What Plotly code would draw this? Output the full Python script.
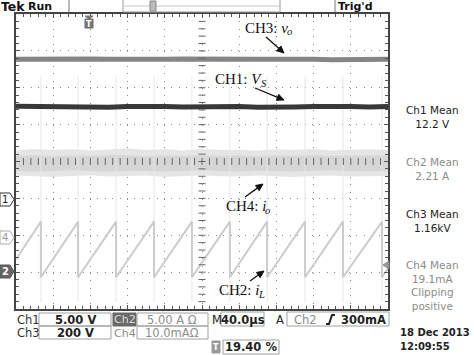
import math
import plotly.graph_objects as go

# ---------------- data (in screen divisions: x 0..10, y -4..4) ----------------
X_CH = [0, 0.5, 1, 1.5, 2, 2.5, 3, 3.5, 4, 4.5, 5, 5.5, 6, 6.5, 7, 7.5, 8, 8.5, 9, 9.5, 10]
CH3_VO = [2.77, 2.78, 2.77, 2.77, 2.78, 2.77, 2.76, 2.77, 2.77, 2.78, 2.77, 2.77, 2.76, 2.77, 2.77, 2.78, 2.77, 2.76, 2.77, 2.77, 2.77]
CH1_VS = [1.50, 1.49, 1.49, 1.48, 1.47, 1.47, 1.49, 1.50, 1.49, 1.48, 1.49, 1.50, 1.49, 1.47, 1.46, 1.48, 1.49, 1.50, 1.49, 1.48, 1.49]
CH4_IO_UP = [0.30, 0.34, 0.31, 0.33, 0.30, 0.32, 0.35, 0.31, 0.33, 0.30, 0.34, 0.31, 0.32, 0.30, 0.33, 0.31, 0.34, 0.30, 0.32, 0.33, 0.31]
CH4_IO_LO = [-0.38, -0.40, -0.42, -0.39, -0.37, -0.41, -0.40, -0.38, -0.42, -0.39, -0.37, -0.40, -0.41, -0.38, -0.40, -0.42, -0.39, -0.38, -0.41, -0.40, -0.39]
CH4_CORE_UP = [0.15, 0.17, 0.14, 0.16, 0.15, 0.17, 0.16, 0.14, 0.16, 0.15, 0.17, 0.15, 0.16, 0.14, 0.16, 0.15, 0.17, 0.15, 0.16, 0.15, 0.16]
CH4_CORE_LO = [-0.25, -0.27, -0.26, -0.24, -0.26, -0.27, -0.25, -0.26, -0.27, -0.25, -0.24, -0.26, -0.27, -0.25, -0.26, -0.27, -0.25, -0.24, -0.26, -0.27, -0.25]

IL_EDGES = [0.67, 1.67, 2.69, 3.71, 4.73, 5.75, 6.75, 7.77, 8.79, 9.84]
IL_LOW = -3.14
IL_HIGH = -1.63
IL_START = -2.65
IL_END = -2.90
SPIKE_TOP = 2.3
SPIKE_BOT = -3.8

MEAN_LABELS = ["Ch1 Mean", "Ch2 Mean", "Ch3 Mean", "Ch4 Mean"]
MEAN_VALUES = ["12.2 V", "2.21 A", "1.16kV", "19.1mA"]

W, H = 474, 355
def PX(x): return x / W
def PY(y): return 1 - y / H

# ---------------- build sawtooth ----------------
il_x, il_y = [0], [IL_START]
for e in IL_EDGES:
    il_x += [e, e]
    il_y += [IL_HIGH, IL_LOW]
il_x.append(10); il_y.append(IL_END)

sp_x, sp_y = [], []
for e in IL_EDGES:
    sp_x += [e, e, None]
    sp_y += [SPIKE_BOT, SPIKE_TOP, None]

fig = go.Figure()

# CH4 band (outer + core)
fig.add_trace(go.Scatter(x=X_CH, y=CH4_IO_LO, mode="lines", line=dict(width=0, color="#e5e5e5"), hoverinfo="skip"))
fig.add_trace(go.Scatter(x=X_CH, y=CH4_IO_UP, mode="lines", line=dict(width=0, color="#e5e5e5"), fill="tonexty", fillcolor="#e5e5e5", hoverinfo="skip"))
fig.add_trace(go.Scatter(x=X_CH, y=CH4_CORE_LO, mode="lines", line=dict(width=0, color="#d6d6d6"), hoverinfo="skip"))
fig.add_trace(go.Scatter(x=X_CH, y=CH4_CORE_UP, mode="lines", line=dict(width=0, color="#d6d6d6"), fill="tonexty", fillcolor="#d6d6d6", hoverinfo="skip"))

# CH2 spikes + ramp
fig.add_trace(go.Scatter(x=sp_x, y=sp_y, mode="lines", line=dict(width=1, color="#e6e6e6"), hoverinfo="skip"))
fig.add_trace(go.Scatter(x=il_x, y=il_y, mode="lines", line=dict(width=2, color="#cccccc"), hoverinfo="skip"))

# CH3 and CH1
fig.add_trace(go.Scatter(x=X_CH, y=CH3_VO, mode="lines", line=dict(width=5, color="#858585"), hoverinfo="skip"))
fig.add_trace(go.Scatter(x=X_CH, y=CH1_VS, mode="lines", line=dict(width=5, color="#383838"), hoverinfo="skip"))

# center cross ticks
tx = [i * 0.2 for i in range(1, 50)]
ty = [i * 0.2 - 4 for i in range(1, 40)]
fig.add_trace(go.Scatter(x=tx, y=[0] * len(tx), mode="markers",
                         marker=dict(symbol="line-ns", size=5, line=dict(width=1, color="#666")), hoverinfo="skip"))
fig.add_trace(go.Scatter(x=[5] * len(ty), y=ty, mode="markers",
                         marker=dict(symbol="line-ew", size=5, line=dict(width=1, color="#666")), hoverinfo="skip"))

axcommon = dict(showline=True, linecolor="#444", linewidth=2, mirror="allticks",
                ticks="inside", ticklen=4, tickcolor="#555", tickwidth=1,
                showticklabels=False, zeroline=False, showgrid=True,
                gridcolor="#8a8a8a", gridwidth=1, griddash="1px,6.4px",
                dtick=1, tick0=0,
                minor=dict(dtick=0.2, ticks="inside", ticklen=3, tickcolor="#555", showgrid=False))
fig.update_xaxes(range=[0, 10], domain=[PX(16), PX(388)], **axcommon)
fig.update_yaxes(range=[-4, 4], domain=[PY(309), PY(14)], **axcommon)

ann = []
shapes = []
UI = "DejaVu Sans"

def text(x, y, s, size=11, color="#222", anchor="left", bold=False, font=UI):
    ann.append(dict(xref="paper", yref="paper", x=PX(x), y=PY(y), text=("<b>%s</b>" % s) if bold else s,
                    showarrow=False, xanchor=anchor, yanchor="middle",
                    font=dict(family=font, size=size, color=color), borderpad=0))

def rect(x0, y0, x1, y1, line="#a0a0a0", fill=None, w=1):
    shapes.append(dict(type="rect", xref="paper", yref="paper", x0=PX(x0), x1=PX(x1), y0=PY(y1), y1=PY(y0),
                       line=dict(color=line, width=w), fillcolor=fill if fill else "rgba(0,0,0,0)"))

def line(x0, y0, x1, y1, color="#888", w=1):
    shapes.append(dict(type="line", xref="paper", yref="paper", x0=PX(x0), x1=PX(x1), y0=PY(y0), y1=PY(y1),
                       line=dict(color=color, width=w)))

def path(pts, line_c="#333", fill="white", w=1, closed=True):
    p = "M " + " L ".join("%f,%f" % (PX(a), PY(b)) for a, b in pts) + (" Z" if closed else "")
    shapes.append(dict(type="path", xref="paper", yref="paper", path=p, line=dict(color=line_c, width=w),
                       fillcolor=fill if fill else "rgba(0,0,0,0)"))

def arrow(tx_, ty_, hx, hy, hl=7, hw=3.2):
    dx, dy = hx - tx_, hy - ty_
    L = math.hypot(dx, dy)
    ux, uy = dx / L, dy / L
    bx, by = hx - ux * hl, hy - uy * hl
    line(tx_, ty_, bx, by, "#111", 1.3)
    path([(hx, hy), (bx - uy * hw, by + ux * hw), (bx + uy * hw, by - ux * hw)], line_c="#111", fill="#111")

# ---------------- header ----------------
text(0, 7, "Tek", size=12.5, color="#111", bold=True)
text(27, 7, "Run", size=11, color="#111", bold=True)
line(69, 0, 69, 12, "#777")
rect(123, -2, 280, 12, line="#9a9a9a")
line(123, 6, 280, 6, "#c8c8c8")
rect(150, 1, 156, 11, line="#888", fill="#bbbbbb")
line(335, 0, 335, 12, "#777")
text(337, 7, "Trig'd", size=11, color="#111", bold=True)

# trigger marker at top of graticule
path([(85, 16), (93, 16), (89, 19)], line_c="#777", fill="#777")
rect(85, 19, 93, 28, line="#666", fill="#777")
text(89, 24, "T", size=8, color="white", anchor="center", bold=True)

# left channel markers
path([(0, 193), (10, 193), (14, 199.5), (10, 206), (0, 206)], line_c="#333", fill="white")
text(5, 199.5, "1", size=10, color="#222", anchor="center")
path([(0, 231), (10, 231), (14, 237.5), (10, 244), (0, 244)], line_c="#aaa", fill="white")
text(5, 237.5, "4", size=10, color="#999", anchor="center")
path([(0, 265), (10, 265), (14, 271.5), (10, 278), (0, 278)], line_c="#555", fill="#666")
text(5, 271.5, "2", size=10, color="white", anchor="center", bold=True)

# right trigger level marker
path([(383, 265), (389, 261), (389, 269)], line_c="#888", fill="#999")

# ---------------- right panel ----------------
groups = [(116.5, [MEAN_LABELS[0], MEAN_VALUES[0]], "#222"),
          (169, [MEAN_LABELS[1], MEAN_VALUES[1]], "#8c8c8c"),
          (221, [MEAN_LABELS[2], MEAN_VALUES[2]], "#222"),
          (285.5, [MEAN_LABELS[3], MEAN_VALUES[3], "Clipping", "positive"], "#8c8c8c")]
for yc, lines_, c in groups:
    text(432, yc, "<br>".join(lines_), size=10.5, color=c, anchor="center")

# ---------------- bottom readouts ----------------
text(16, 319.5, "Ch1", size=11.5, color="#333")
rect(39, 313, 111, 326)
text(75, 319.5, "5.00 V", size=11.5, color="#222", anchor="center", bold=True)
rect(113, 313, 136, 326, line="#666", fill="#6a6a6a")
text(124.5, 319.5, "Ch2", size=11, color="#dddddd", anchor="center")
rect(137, 313, 208, 326)
text(172, 319.5, "5.00 A Ω", size=11.5, color="#8c8c8c", anchor="center")

text(16, 333, "Ch3", size=11.5, color="#333")
rect(39, 326, 111, 339)
text(75, 333, "200 V", size=11.5, color="#222", anchor="center", bold=True)
text(124.5, 333, "Ch4", size=11, color="#8c8c8c", anchor="center")
rect(137, 326, 208, 339)
text(172, 333, "10.0mAΩ", size=11.5, color="#8c8c8c", anchor="center")

text(211, 319.5, "M", size=11.5, color="#222")
rect(221, 312, 264, 326)
text(242.5, 319.5, "40.0µs", size=11.5, color="#222", anchor="center", bold=True)
text(275, 319.5, "A", size=11.5, color="#222")
rect(287, 312, 389, 326)
text(305, 319.5, "Ch2", size=11.5, color="#8c8c8c", anchor="center")
path([(326, 324), (329, 324), (332, 315), (335, 315)], line_c="#222", fill=None, w=2, closed=False)
text(387, 319.5, "300mA", size=11.5, color="#222", anchor="right", bold=True)

rect(212, 341, 220, 353, line="#999", fill="#9a9a9a")
text(216, 347, "T", size=8, color="white", anchor="center", bold=True)
rect(223, 340, 279, 354)
text(251, 347, "19.40 %", size=11.5, color="#222", anchor="center", bold=True)

text(399, 332, "18 Dec 2013", size=10, color="#222", bold=True)
text(399, 346, "12:09:55", size=10, color="#222", bold=True)

# ---------------- trace labels (main text + manual subscript) ----------------
SERIF = "Liberation Serif"
def label(x_end, y, main, sub):
    text(x_end, y, main, size=15, color="#111", anchor="right", font=SERIF)
    text(x_end - 3, y + 4, "<i>%s</i>" % sub, size=10.5, color="#111", anchor="left", font=SERIF)

label(289, 28, "CH3: <i>v</i>", "o")
label(263, 79, "CH1: <i>V</i>", "S")
label(267, 206, "CH4: <i>i</i>", "o")
label(260, 290, "CH2: <i>i</i>", "L")

arrow(266, 37, 284, 53)
arrow(255, 88, 284, 100)
arrow(245, 197, 263, 184)
arrow(250, 281, 264, 271)

fig.update_layout(width=W, height=H, margin=dict(l=0, r=0, t=0, b=0),
                  paper_bgcolor="white", plot_bgcolor="white", showlegend=False,
                  annotations=ann, shapes=shapes)
fig.write_html("out.html")
